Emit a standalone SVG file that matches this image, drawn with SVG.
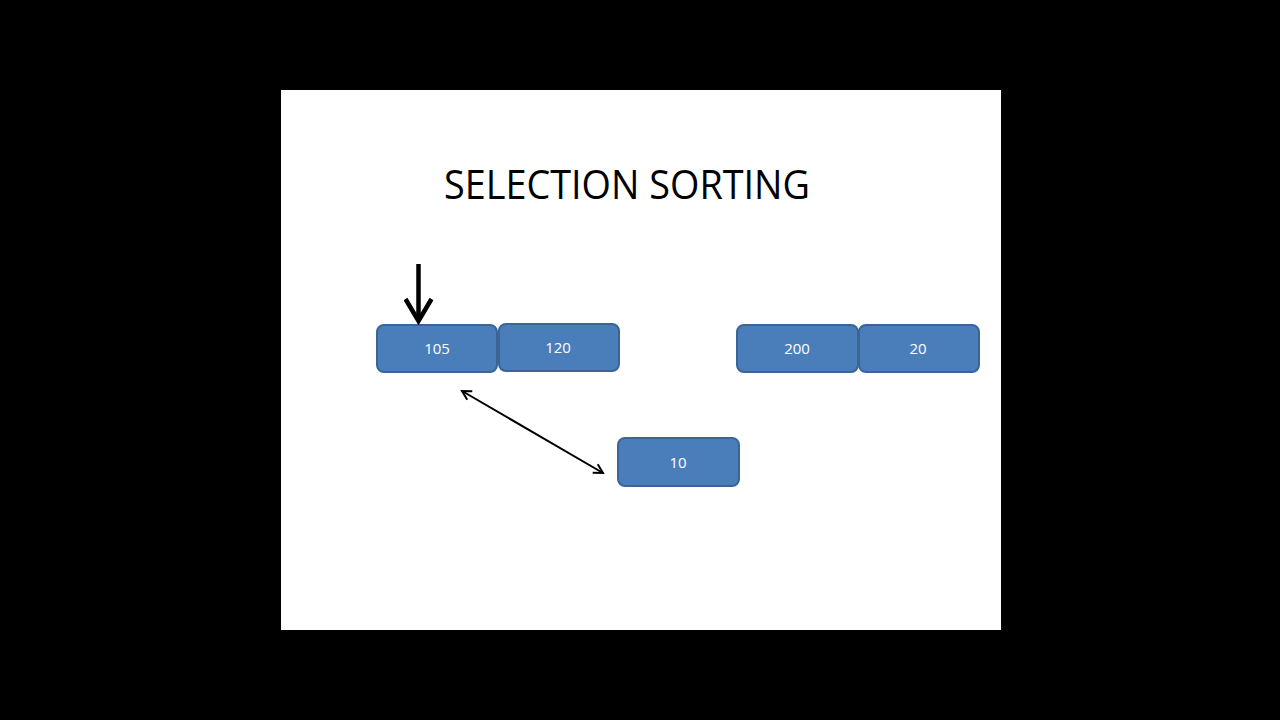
<svg xmlns="http://www.w3.org/2000/svg" width="1280" height="720" viewBox="0 0 1280 720">
<defs>
<style>
.box{fill:#4a7ebb;stroke:#3a6595;stroke-width:2}
.lbl{font-family:"Open Sans","Liberation Sans",sans-serif;font-size:15px;fill:#ffffff;text-anchor:middle}
.title{font-family:"Open Sans","Liberation Sans",sans-serif;font-size:40px;fill:#000}
</style>
<marker id="open" viewBox="0 0 12 12" refX="10" refY="6" markerWidth="12" markerHeight="12" markerUnits="userSpaceOnUse" orient="auto-start-reverse">
<path d="M1,1 L10,6 L1,11" fill="none" stroke="#000" stroke-width="2"/>
</marker>
<marker id="big" viewBox="0 0 30 30" refX="26" refY="15" markerWidth="30" markerHeight="30" markerUnits="userSpaceOnUse" orient="auto">
<path d="M4,2 L26,15 L4,28" fill="none" stroke="#000" stroke-width="4.5"/>
</marker>
</defs>
<rect x="0" y="0" width="1280" height="720" fill="#000"/>
<rect x="281" y="90" width="720" height="540" fill="#fff"/>
<text class="title" x="444" y="199" textLength="366" lengthAdjust="spacingAndGlyphs">SELECTION SORTING</text>
<g id="n105"><rect class="box" x="377" y="325" width="120" height="47" rx="7"/><text class="lbl" x="437" y="354">105</text></g>
<g id="n120"><rect class="box" x="499" y="324" width="120" height="47" rx="7"/><text class="lbl" x="558" y="353">120</text></g>
<g id="n200"><rect class="box" x="737" y="325" width="121" height="47" rx="7"/><text class="lbl" x="797" y="354">200</text></g>
<g id="n20"><rect class="box" x="859" y="325" width="120" height="47" rx="7"/><text class="lbl" x="918" y="354">20</text></g>
<g id="n10"><rect class="box" x="618" y="438" width="121" height="48" rx="7"/><text class="lbl" x="678" y="468">10</text></g>
<g id="connectors">
<line x1="418.5" y1="264" x2="418.5" y2="321" stroke="#000" stroke-width="4.5" marker-end="url(#big)"/>
<line x1="462" y1="391" x2="603" y2="473" stroke="#000" stroke-width="2" marker-start="url(#open)" marker-end="url(#open)"/>
</g>
</svg>
